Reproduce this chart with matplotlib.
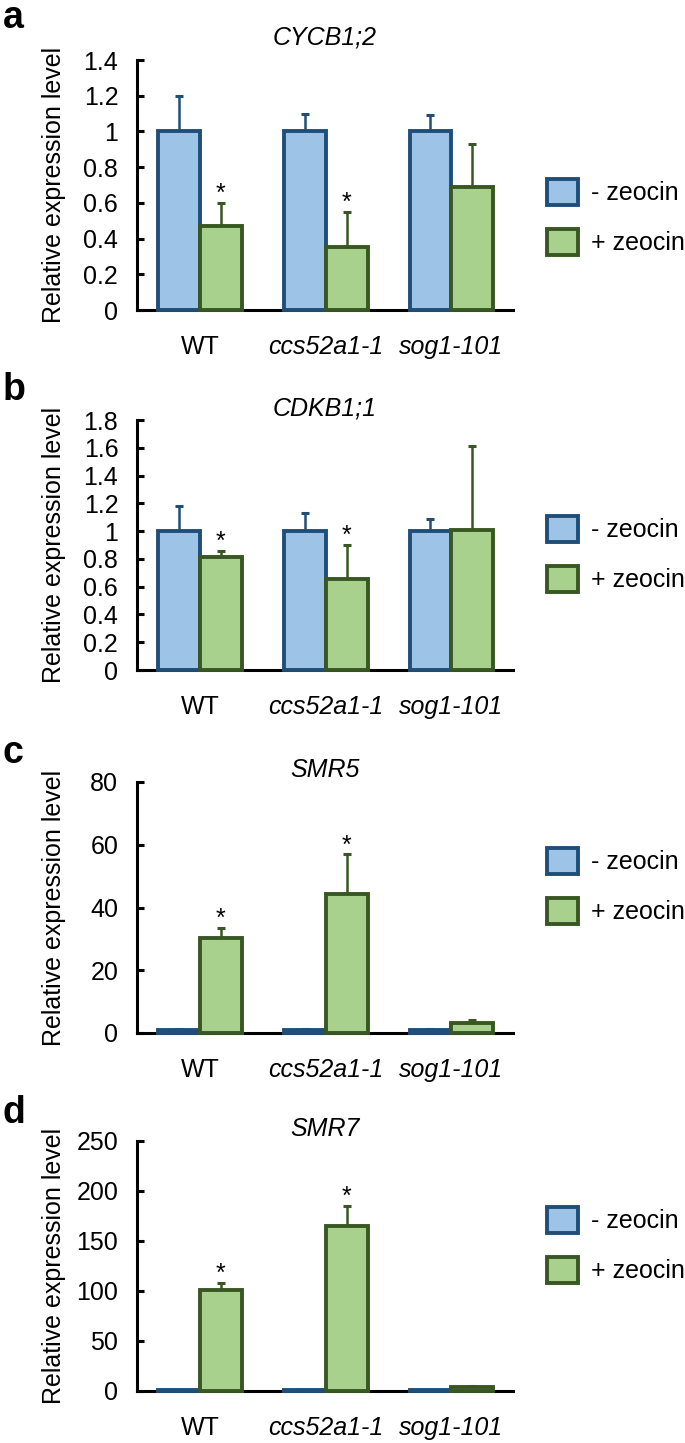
import matplotlib
matplotlib.use("Agg")
import matplotlib.pyplot as plt
from matplotlib.patches import Patch
from matplotlib.ticker import FuncFormatter
import numpy as np

plt.rcParams['font.family'] = ['Liberation Sans', 'DejaVu Sans']

# ---- data ----
genotypes = ["WT", "ccs52a1-1", "sog1-101"]
genotype_italic = [False, True, True]
series_labels = ["- zeocin", "+ zeocin"]
panel_letters = ["a", "b", "c", "d"]
gene_names = ["CYCB1;2", "CDKB1;1", "SMR5", "SMR7"]

cycb_minus = [1.0, 1.0, 1.0]
cycb_minus_err = [0.20, 0.10, 0.09]
cycb_plus = [0.47, 0.355, 0.69]
cycb_plus_err = [0.13, 0.195, 0.24]
cycb_sig = [True, True, False]
cycb_ticks = [0, 0.2, 0.4, 0.6, 0.8, 1.0, 1.2, 1.4]

cdkb_minus = [1.0, 1.0, 1.0]
cdkb_minus_err = [0.18, 0.13, 0.09]
cdkb_plus = [0.815, 0.655, 1.01]
cdkb_plus_err = [0.04, 0.245, 0.60]
cdkb_sig = [True, True, False]
cdkb_ticks = [0, 0.2, 0.4, 0.6, 0.8, 1.0, 1.2, 1.4, 1.6, 1.8]

smr5_minus = [1.0, 1.0, 1.0]
smr5_minus_err = [0.3, 0.2, 0.2]
smr5_plus = [30.4, 44.2, 3.2]
smr5_plus_err = [3.1, 12.7, 0.8]
smr5_sig = [True, True, False]
smr5_ticks = [0, 20, 40, 60, 80]

smr7_minus = [1.0, 1.0, 1.0]
smr7_minus_err = [0.5, 0.5, 0.5]
smr7_plus = [101.5, 165.0, 4.3]
smr7_plus_err = [7.0, 19.7, 0.8]
smr7_sig = [True, True, False]
smr7_ticks = [0, 50, 100, 150, 200, 250]

panels = [
    (cycb_minus, cycb_minus_err, cycb_plus, cycb_plus_err, cycb_sig, cycb_ticks),
    (cdkb_minus, cdkb_minus_err, cdkb_plus, cdkb_plus_err, cdkb_sig, cdkb_ticks),
    (smr5_minus, smr5_minus_err, smr5_plus, smr5_plus_err, smr5_sig, smr5_ticks),
    (smr7_minus, smr7_minus_err, smr7_plus, smr7_plus_err, smr7_sig, smr7_ticks),
]

# ---- style ----
blue_fill, blue_edge = "#9DC3E6", "#1F4E79"
green_fill, green_edge = "#A9D18E", "#385723"
FS = 18

W, H = 685, 1443
fig = plt.figure(figsize=(W / 100, H / 100), dpi=100)

ax_left, ax_w = 137 / W, 376 / W
ax_rows = [(60, 310), (420, 670), (782, 1033), (1141, 1391)]
title_pads = [11, 1, 1, 1]
legend_y = [217, 554, 886, 1245]
letter_y = [28, 400, 763, 1123]

x = np.arange(len(genotypes))
bw = 0.333

for i, (mn, mn_e, pl, pl_e, sig, ticks) in enumerate(panels):
    top, bot = ax_rows[i]
    ax = fig.add_axes([ax_left, 1 - bot / H, ax_w, (bot - top) / H])
    ax.bar(x - bw / 2, mn, bw, color=blue_fill, edgecolor=blue_edge,
           linewidth=2.8, zorder=3, clip_on=False)
    ax.bar(x + bw / 2, pl, bw, color=green_fill, edgecolor=green_edge,
           linewidth=2.8, zorder=3, clip_on=False)
    ax.errorbar(x - bw / 2, mn, yerr=[np.zeros(3), mn_e], fmt='none',
                ecolor=blue_edge, elinewidth=1.8, capsize=3, capthick=2.2,
                zorder=2.8)
    ax.errorbar(x + bw / 2, pl, yerr=[np.zeros(3), pl_e], fmt='none',
                ecolor=green_edge, elinewidth=1.8, capsize=3, capthick=2.2,
                zorder=2.8)
    for j in range(len(genotypes)):
        if sig[j]:
            ax.annotate("*", (x[j] + bw / 2, pl[j] + pl_e[j]),
                        xytext=(0, 1.5), textcoords="offset points",
                        ha="center", va="baseline", fontsize=FS)
    ax.set_xlim(-0.5, 2.49)
    ax.set_ylim(ticks[0], ticks[-1])
    ax.set_yticks(ticks)
    ax.yaxis.set_major_formatter(FuncFormatter(lambda v, p: f"{v:g}"))
    ax.set_xticks(x)
    ax.set_xticklabels(genotypes)
    for lbl, it in zip(ax.get_xticklabels(), genotype_italic):
        lbl.set_fontstyle("italic" if it else "normal")
    ax.tick_params(axis="y", direction="in", length=5, width=2.2,
                   labelsize=FS, pad=13.5)
    ax.tick_params(axis="x", length=0, labelsize=FS, pad=18)
    for s in ("top", "right"):
        ax.spines[s].set_visible(False)
    for s in ("left", "bottom"):
        ax.spines[s].set_linewidth(2.2)
        ax.spines[s].set_zorder(2.5)
    ax.set_ylabel("Relative expression level", fontsize=FS)
    ax.yaxis.set_label_coords(-0.19, 0.5)
    ax.set_title(gene_names[i], fontsize=FS, fontstyle="italic",
                 pad=title_pads[i])

    handles = [Patch(facecolor=blue_fill, edgecolor=blue_edge, linewidth=2.8),
               Patch(facecolor=green_fill, edgecolor=green_edge, linewidth=2.8)]
    fig.legend(handles, series_labels, loc="center left",
               bbox_to_anchor=(547 / W, 1 - legend_y[i] / H),
               frameon=False, fontsize=FS, borderpad=0, borderaxespad=0,
               handlelength=1.22, handleheight=1.22, handletextpad=0.55,
               labelspacing=0.95)

    fig.text(3 / W, 1 - letter_y[i] / H, panel_letters[i], fontsize=27,
             fontweight="bold", ha="left", va="baseline")

fig.savefig("out.png", dpi=100)
